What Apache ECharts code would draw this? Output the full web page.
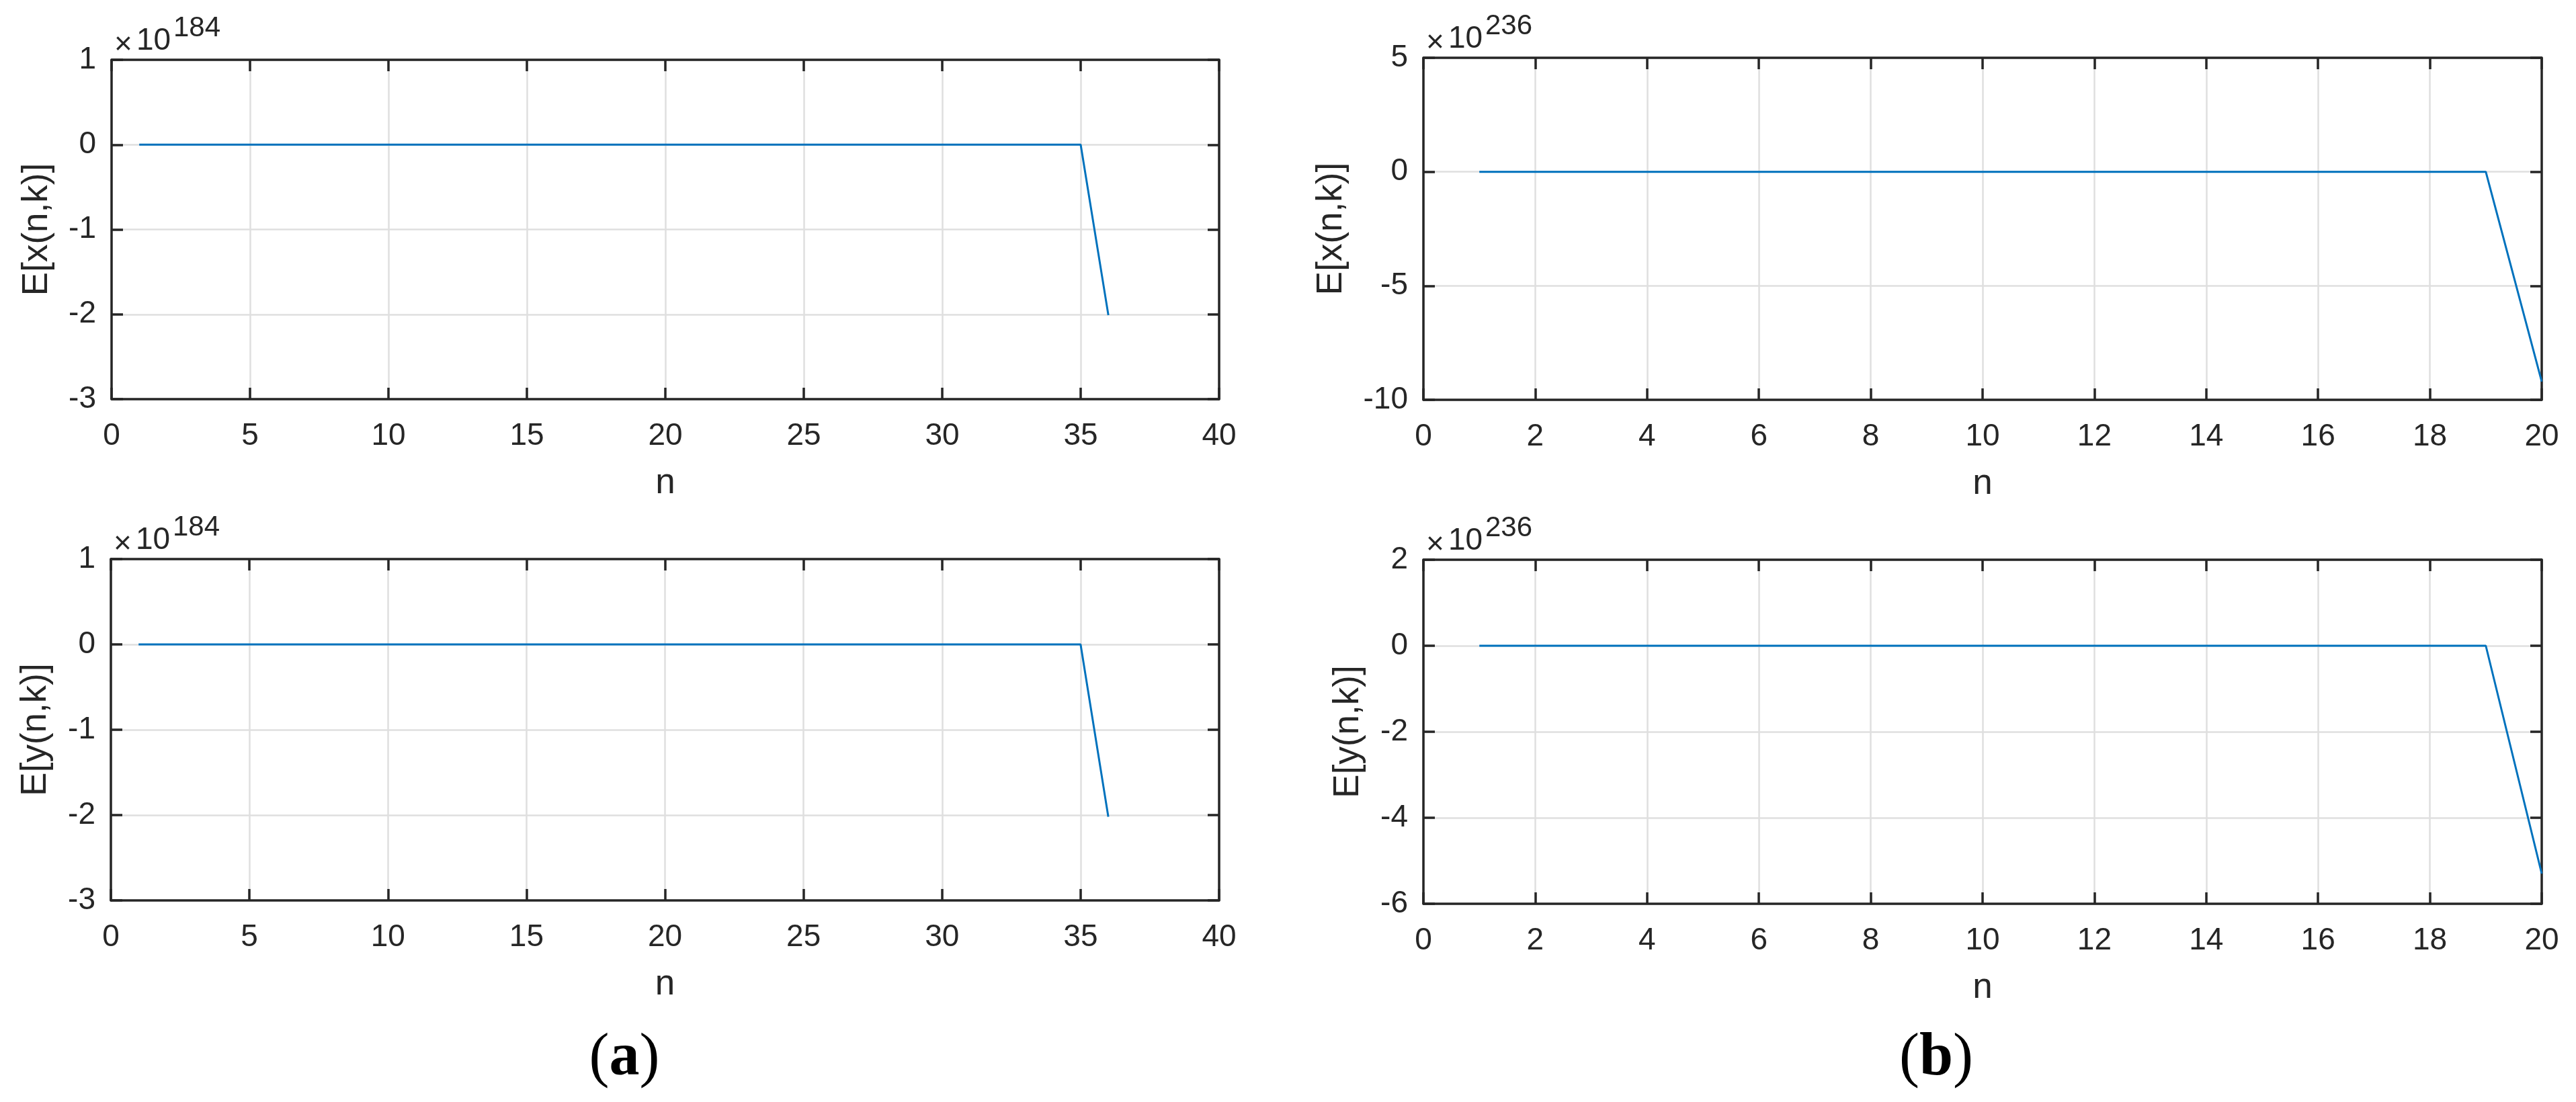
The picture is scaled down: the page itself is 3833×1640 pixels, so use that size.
<!DOCTYPE html>
<html>
<head>
<meta charset="utf-8">
<script src="https://cdn.jsdelivr.net/npm/echarts@6/dist/echarts.min.js"></script>
<style>
html,body{margin:0;padding:0;background:#ffffff;}
#chart{width:3833px;height:1640px;}
</style>
</head>
<body>
<div id="chart"></div>
<script>
// ---------------- data (values in units of the axis exponent) ----------------
const nA = [1,2,3,4,5,6,7,8,9,10,11,12,13,14,15,16,17,18,19,20,21,22,23,24,25,26,27,28,29,30,31,32,33,34,35,36];
const ExA = [0,0,0,0,0,0,0,0,0,0,0,0,0,0,0,0,0,0,0,0,0,0,0,0,0,0,0,0,0,0,0,0,0,0,0,-2.01];
const EyA = [0,0,0,0,0,0,0,0,0,0,0,0,0,0,0,0,0,0,0,0,0,0,0,0,0,0,0,0,0,0,0,0,0,0,0,-2.02];
const expA = '184';

const nB = [1,2,3,4,5,6,7,8,9,10,11,12,13,14,15,16,17,18,19,20];
const ExB = [0,0,0,0,0,0,0,0,0,0,0,0,0,0,0,0,0,0,0,-9.2];
const EyB = [0,0,0,0,0,0,0,0,0,0,0,0,0,0,0,0,0,0,0,-5.3];
const expB = '236';

const xNameA = 'n';
const xNameB = 'n';
const yNames = ['E[x(n,k)]', 'E[x(n,k)]', 'E[y(n,k)]', 'E[y(n,k)]'];
const captions = ['a', 'b'];

// ---------------- styling / layout ----------------
const FONT = '"Liberation Sans", Arial, Helvetica, sans-serif';
const SERIF = '"Liberation Serif", "Times New Roman", serif';
const INK = '#262626';
const GRIDC = '#dfdfdf';
const LINEC = '#0072BD';

const grids = [
  {left:166,  top:89,  width:1648, height:505},
  {left:2118, top:86,  width:1664, height:509},
  {left:165,  top:832, width:1649, height:508},
  {left:2118, top:833, width:1664, height:512}
];

const panels = [
  {x:nA, y:ExA, xMax:40, xInt:5, yMin:-3,  yMax:1, yInt:1, yName:yNames[0], yGap:84,  exp:expA, xName:xNameA},
  {x:nB, y:ExB, xMax:20, xInt:2, yMin:-10, yMax:5, yInt:5, yName:yNames[1], yGap:110, exp:expB, xName:xNameB},
  {x:nA, y:EyA, xMax:40, xInt:5, yMin:-3,  yMax:1, yInt:1, yName:yNames[2], yGap:85,  exp:expA, xName:xNameA},
  {x:nB, y:EyB, xMax:20, xInt:2, yMin:-6,  yMax:2, yInt:2, yName:yNames[3], yGap:85,  exp:expB, xName:xNameB}
];

const axisLineStyle = {color: INK, width: 3.5};
const tickStyle = {show:true, inside:true, length:17, lineStyle:{color: INK, width: 3.5}};

const xAxes = [], yAxes = [], series = [], graphics = [];

panels.forEach((p, i) => {
  xAxes.push({
    gridIndex:i, type:'value', min:0, max:p.xMax, interval:p.xInt, position:'bottom',
    name:p.xName, nameLocation:'middle', nameGap:99, nameMoveOverlap:false,
    nameTextStyle:{fontSize:53, color:INK, fontFamily:FONT},
    axisLine:{show:true, onZero:false, lineStyle:axisLineStyle},
    axisTick:tickStyle,
    axisLabel:{show:true, margin:32, fontSize:46, color:INK, fontFamily:FONT, showMinLabel:true, showMaxLabel:true},
    splitLine:{show:true, lineStyle:{color:GRIDC, width:2.5}}
  });
  xAxes.push({
    gridIndex:i, type:'value', min:0, max:p.xMax, interval:p.xInt, position:'top',
    axisLine:{show:true, onZero:false, lineStyle:axisLineStyle},
    axisTick:tickStyle, axisLabel:{show:false}, splitLine:{show:false}
  });
  yAxes.push({
    gridIndex:i, type:'value', min:p.yMin, max:p.yMax, interval:p.yInt, position:'left',
    name:p.yName, nameLocation:'middle', nameGap:p.yGap, nameMoveOverlap:false,
    nameTextStyle:{fontSize:53, color:INK, fontFamily:FONT},
    axisLine:{show:true, onZero:false, lineStyle:axisLineStyle},
    axisTick:tickStyle,
    axisLabel:{show:true, margin:23, fontSize:46, color:INK, fontFamily:FONT, showMinLabel:true, showMaxLabel:true},
    splitLine:{show:true, lineStyle:{color:GRIDC, width:2.5}}
  });
  yAxes.push({
    gridIndex:i, type:'value', min:p.yMin, max:p.yMax, interval:p.yInt, position:'right',
    axisLine:{show:true, onZero:false, lineStyle:axisLineStyle},
    axisTick:tickStyle, axisLabel:{show:false}, splitLine:{show:false}
  });
  series.push({
    type:'line', xAxisIndex:2*i, yAxisIndex:2*i,
    data:p.x.map((n, k) => [n, p.y[k]]),
    symbol:'none', showSymbol:false, silent:true,
    lineStyle:{color:LINEC, width:3}
  });
  const g = grids[i];
  graphics.push({type:'text', x:g.left + 4, y:g.top - 22,
    style:{text:'×', fontSize:46, fontFamily:FONT, fill:INK, align:'left', verticalAlign:'middle'}});
  graphics.push({type:'text', x:g.left + 37, y:g.top - 28,
    style:{text:'10', fontSize:46, fontFamily:FONT, fill:INK, align:'left', verticalAlign:'middle'}});
  graphics.push({type:'text', x:g.left + 92, y:g.top - 47,
    style:{text:p.exp, fontSize:42, fontFamily:FONT, fill:INK, align:'left', verticalAlign:'middle'}});
});

const capStyle = (letter) => ({
  text:'{p|(}{b|' + letter + '}{p|)}',
  align:'center', verticalAlign:'middle',
  rich:{
    p:{fontSize:90, fontFamily:SERIF, fontWeight:'normal', fill:'#000'},
    b:{fontSize:90, fontFamily:SERIF, fontWeight:'bold', fill:'#000'}
  }
});
graphics.push({type:'text', x:929,  y:1576, style:capStyle(captions[0])});
graphics.push({type:'text', x:2881, y:1576, style:capStyle(captions[1])});

const chart = echarts.init(document.getElementById('chart'), null, {renderer:'canvas'});
chart.setOption({
  animation:false,
  backgroundColor:'#ffffff',
  textStyle:{fontFamily:FONT, color:INK},
  grid: grids.map(g => Object.assign({containLabel:false, outerBoundsMode:'none'}, g)),
  xAxis: xAxes,
  yAxis: yAxes,
  series: series,
  graphic: graphics
});
</script>
</body>
</html>
